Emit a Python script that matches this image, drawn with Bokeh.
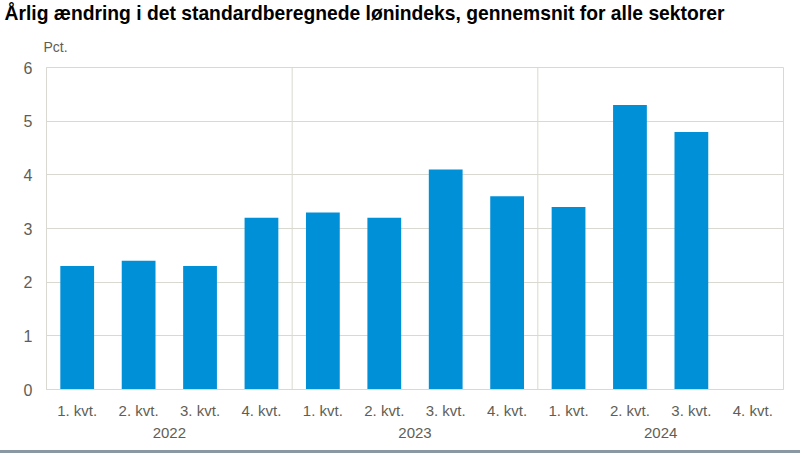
from bokeh.plotting import figure
from bokeh.models import FactorRange, FixedTicker, Span, Title, ColumnDataSource, Range1d
from bokeh.embed import file_html
from bokeh.resources import INLINE

# data
years = ["2022", "2023", "2024"]
quarters = ["1. kvt.", "2. kvt.", "3. kvt.", "4. kvt."]
values = [2.3, 2.4, 2.3, 3.2,
          3.3, 3.2, 4.1, 3.6,
          3.4, 5.3, 4.8, float("nan")]
y_ticks = [0, 1, 2, 3, 4, 5, 6]

title_text = "Årlig ændring i det standardberegnede lønindeks, gennemsnit for alle sektorer"
unit_text = "Pct."

BAR = "#0090d8"
GRID = "#d9d9d1"
TXT = "#5f5e55"
FONT = "Liberation Sans"

factors = [(y, q) for y in years for q in quarters]
src = ColumnDataSource(data=dict(x=factors, top=values))

xr = FactorRange(*factors, factor_padding=0, group_padding=0, range_padding=0)

p = figure(x_range=xr, y_range=Range1d(0, 6), width=800, height=453,
           output_backend="svg", toolbar_location=None,
           min_border_left=46, min_border_right=17,
           min_border_top=67, min_border_bottom=64)

p.vbar(x="x", top="top", width=0.55, source=src, color=BAR, line_color=None)

# skillelinjer mellem årene
for loc in [4, 8]:
    p.add_layout(Span(location=loc, dimension="height", line_color=GRID, line_width=1))

p.xgrid.grid_line_color = None
p.ygrid.grid_line_color = GRID
p.ygrid.ticker = FixedTicker(ticks=y_ticks)
p.outline_line_color = GRID

p.yaxis.ticker = FixedTicker(ticks=y_ticks)
p.yaxis.axis_line_color = GRID
p.yaxis.major_tick_line_color = None
p.yaxis.minor_tick_line_color = None
p.yaxis.major_label_text_font = FONT
p.yaxis.major_label_text_font_size = "16px"
p.yaxis.major_label_text_color = TXT
p.yaxis.major_label_standoff = 8

p.xaxis.axis_line_color = GRID
p.xaxis.major_tick_line_color = None
p.xaxis.minor_tick_line_color = None
p.xaxis.major_label_text_font = FONT
p.xaxis.major_label_text_font_size = "15px"
p.xaxis.major_label_text_color = TXT
p.xaxis.major_label_standoff = 6
p.xaxis.group_text_font = FONT
p.xaxis.group_text_font_size = "15px"
p.xaxis.group_text_color = TXT
p.xaxis.group_text_font_style = "normal"
p.xaxis.separator_line_alpha = 0

# hovedtitel øverst
p.title.text = title_text
p.title.align = "left"
p.title.offset = -42
p.title.standoff = 0
p.title.text_font = FONT
p.title.text_font_size = "19.3px"
p.title.text_font_style = "bold"
p.title.text_color = "#000000"

# "Pct." nærmest plottet
p.add_layout(Title(text=unit_text, align="left", offset=-3, standoff=26,
                   text_font=FONT, text_font_size="14px", text_font_style="normal",
                   text_color=TXT), "above")

# grå streg i bunden
p.styles = {"border-bottom": "3px solid #8a98a4", "box-sizing": "border-box",
            "overflow": "hidden"}

open("out.html", "w").write(file_html(p, INLINE))
